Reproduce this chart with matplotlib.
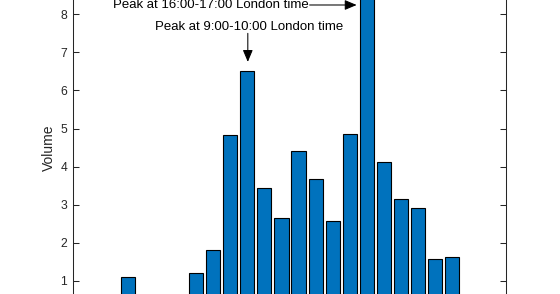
import matplotlib
matplotlib.use("Agg")
import matplotlib.pyplot as plt

# Data (x = hour index 1..24, i.e. hour+1)
hours = list(range(1, 25))
volume = [0, 0, 1.11, 0, 0, 0, 1.20, 1.81, 4.82, 6.52, 3.43, 2.64,
          4.42, 3.68, 2.56, 4.85, 9.2, 4.13, 3.14, 2.91, 1.57, 1.62, 0, 0]
yticks = [1, 2, 3, 4, 5, 6, 7, 8]
ylabel = "Volume"
note_morning = "Peak at 9:00-10:00 London time"
note_afternoon = "Peak at 16:00-17:00 London time"

plt.rcParams['font.family'] = ['Liberation Sans', 'DejaVu Sans']

W, H = 560, 294
fig = plt.figure(figsize=(W / 100, H / 100), dpi=100)

# axes geometry in pixels (top-left origin)
left_px, right_px = 73.3, 506.0
y0_px, per_unit = 318.8, 38.06
ymax = 9
bottom_frac = (H - y0_px) / H
height_frac = ymax * per_unit / H
ax = fig.add_axes([left_px / W, bottom_frac, (right_px - left_px) / W, height_frac])

ax.bar(hours, volume, width=0.83, color='#0072BD', edgecolor='black', linewidth=0.8)
ax.set_xlim(-0.187, 25.146)
ax.set_ylim(0, ymax)
ax.set_yticks(yticks)
ax.set_xticks([])

gray = '#262626'
for s in ax.spines.values():
    s.set_color(gray)
    s.set_linewidth(0.75)
ax.tick_params(axis='y', direction='in', length=4, width=0.75, color=gray,
               labelcolor=gray, labelsize=8.7, pad=4.5, right=True)

ax.set_ylabel(ylabel, fontsize=10, color=gray)
ax.yaxis.set_label_coords(-0.041, 0.5)

arrow_kw = dict(arrowstyle='-|>,head_length=0.45,head_width=0.19', color='black',
                lw=0.75, mutation_scale=16, shrinkA=0, shrinkB=0)

# morning peak annotation
ax.annotate('', xy=(10.03, 6.75), xytext=(10.03, 7.50), arrowprops=arrow_kw)
ax.text(10.1, 7.67, note_morning, ha='center', va='center', fontsize=9.5, color='black')

# afternoon peak annotation
ax.annotate('', xy=(16.4, 8.245), xytext=(13.65, 8.245), arrowprops=arrow_kw)
ax.text(13.57, 8.25, note_afternoon, ha='right', va='center', fontsize=9.5, color='black')

fig.savefig('out.png', dpi=100)
